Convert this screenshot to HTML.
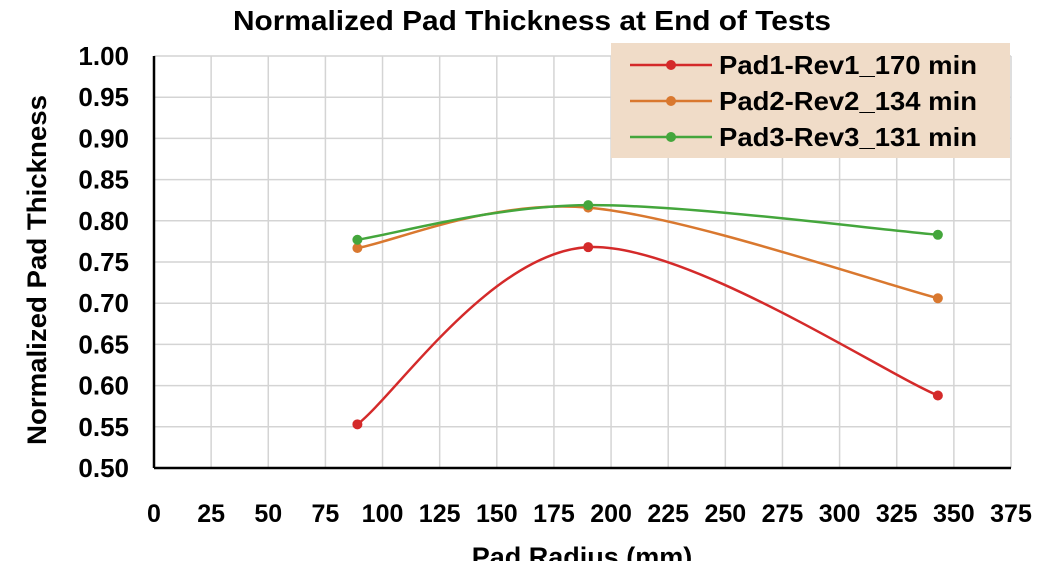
<!DOCTYPE html>
<html><head><meta charset="utf-8"><style>
body{margin:0;background:#fff;}
text{font-family:"Liberation Sans",sans-serif;font-weight:bold;}
</style></head><body>
<svg id="chart" width="1038" height="561" xmlns="http://www.w3.org/2000/svg">
<text x="532" y="30" text-anchor="middle" font-size="28" textLength="598" lengthAdjust="spacingAndGlyphs">Normalized  Pad Thickness at End of Tests</text>
<g id="grid"></g><g id="series"></g>
<text transform="translate(46,270) rotate(-90)" text-anchor="middle" font-size="27" textLength="350" lengthAdjust="spacingAndGlyphs">Normalized Pad Thickness</text>
<text x="582" y="566" text-anchor="middle" font-size="27">Pad Radius (mm)</text>
<g>
<rect x="611" y="43" width="399" height="115" fill="#f0dcc8"/>
<g id="legend"></g>
</g>
</svg>
<script>
const xTicks=[0,25,50,75,100,125,150,175,200,225,250,275,300,325,350,375];
const yTicks=[0.50,0.55,0.60,0.65,0.70,0.75,0.80,0.85,0.90,0.95,1.00];
const radii=[89,190,343];
const pad1=[0.553,0.768,0.588];
const pad2=[0.767,0.816,0.706];
const pad3=[0.777,0.819,0.783];
const names=["Pad1-Rev1_170 min","Pad2-Rev2_134 min","Pad3-Rev3_131 min"];
const colors=["#d42a2a","#d9782f","#44a63c"];
const NS="http://www.w3.org/2000/svg";
const L=154,R=1011,T=56,B=468;
const sx=v=>L+(v-0)/(375)*(R-L);
const sy=v=>B-(v-0.5)/0.5*(B-T);
function mk(tag,attrs,parent){const e=document.createElementNS(NS,tag);for(const k in attrs)e.setAttribute(k,attrs[k]);parent.appendChild(e);return e;}
const grid=document.getElementById('grid');
xTicks.forEach(t=>{
  if(t>0){const l=mk('line',{x1:sx(t),x2:sx(t),y1:T,y2:B,stroke:'#d4d4d4','stroke-width':1.5},grid);
  
  }
  const tx=mk('text',{x:sx(t),y:522,'text-anchor':'middle','font-size':25},grid);tx.textContent=t;
  
  
});
yTicks.forEach(t=>{
  if(t>0.5){const l=mk('line',{x1:L,x2:R,y1:sy(t),y2:sy(t),stroke:'#d4d4d4','stroke-width':1.5},grid);
  
  }
  const tx=mk('text',{x:129,y:sy(t)+9,'text-anchor':'end','font-size':26},grid);tx.textContent=t.toFixed(2);
  
  
});
const ax=mk('line',{x1:L,x2:L,y1:T,y2:B,stroke:'#000','stroke-width':2.5},grid);


const bx=mk('line',{x1:L,x2:R,y1:B,y2:B,stroke:'#000','stroke-width':2.5},grid);


function smooth(pts){
  let d=`M${pts[0][0]},${pts[0][1]}`;
  for(let i=0;i<pts.length-1;i++){
    const p0=pts[i-1]||pts[i],p1=pts[i],p2=pts[i+1],p3=pts[i+2]||p2;
    const t=1/6;
    const c1=[p1[0]+(p2[0]-p0[0])*t,p1[1]+(p2[1]-p0[1])*t];
    const c2=[p2[0]-(p3[0]-p1[0])*t,p2[1]-(p3[1]-p1[1])*t];
    d+=` C${c1[0]},${c1[1]} ${c2[0]},${c2[1]} ${p2[0]},${p2[1]}`;
  }
  return d;
}
const ser=document.getElementById('series');
[pad1,pad2,pad3].forEach((vals,si)=>{
  const pts=radii.map((r,i)=>[sx(r),sy(vals[i])]);
  const p=mk('path',{d:smooth(pts),fill:'none',stroke:colors[si],'stroke-width':2.5},ser);
  
  
  pts.forEach(q=>{const c=mk('circle',{cx:q[0],cy:q[1],r:5,fill:colors[si]},ser);
  
  });
});
const lg=document.getElementById('legend');
names.forEach((n,i)=>{
  const y=65+i*36;
  const l=mk('line',{x1:630,x2:712,y1:y,y2:y,stroke:colors[i],'stroke-width':2.5},lg);
  
  
  const c=mk('circle',{cx:671,cy:y,r:5,fill:colors[i]},lg);
  
  
  const t=mk('text',{x:719,y:y+9,'font-size':26,textLength:258,lengthAdjust:'spacingAndGlyphs'},lg);t.textContent=n;
  
  
});
</script>
</body></html>
